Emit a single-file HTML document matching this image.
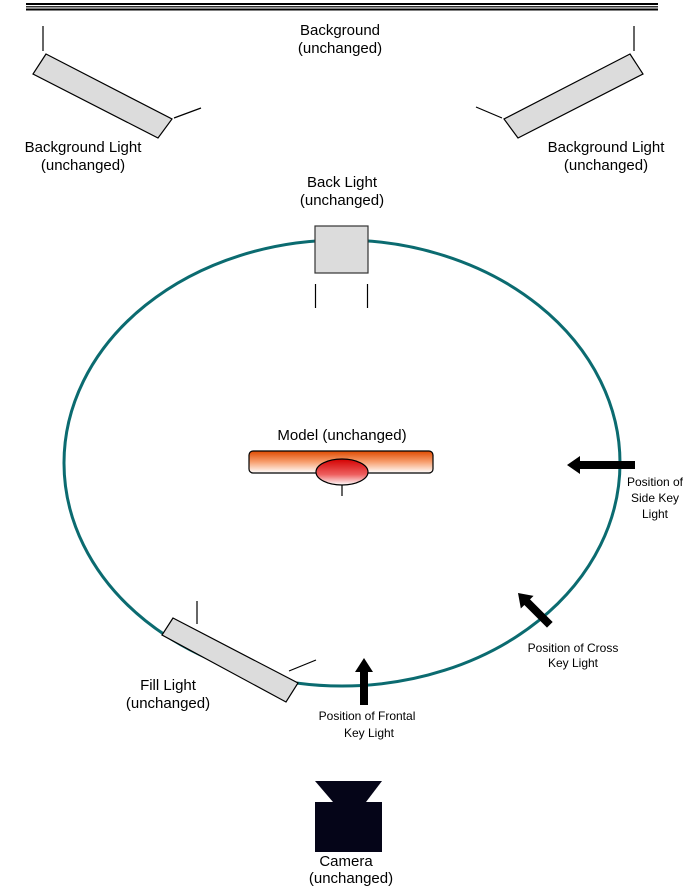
<!DOCTYPE html>
<html><head><meta charset="utf-8"><style>
html,body{margin:0;padding:0;background:#fff;}
svg{display:block;}
text{font-family:"Liberation Sans",sans-serif;fill:#000;}
</style></head><body>
<svg width="685" height="888" viewBox="0 0 685 888" xmlns="http://www.w3.org/2000/svg">
<defs>
<linearGradient id="g" x1="0" y1="0" x2="0" y2="1">
<stop offset="0" stop-color="#e04a00"/><stop offset="0.5" stop-color="#f7a070"/><stop offset="1" stop-color="#ffffff"/>
</linearGradient>
<linearGradient id="g2" x1="0" y1="0" x2="0" y2="1">
<stop offset="0" stop-color="#d40000"/><stop offset="0.6" stop-color="#ee6060"/><stop offset="1" stop-color="#ffffff"/>
</linearGradient>
</defs>
<rect x="26" y="3" width="632" height="2" fill="#000"/>
<rect x="26" y="6" width="632" height="1.5" fill="#333"/>
<rect x="26" y="8.5" width="632" height="2" fill="#000"/>
<text x="340" y="35" font-size="15" text-anchor="middle">Background</text>
<text x="340" y="53" font-size="15" text-anchor="middle">(unchanged)</text>
<line x1="43" y1="26" x2="43" y2="51" stroke="#000" stroke-width="1.2"/>
<polygon points="46,54 33,74 158,138 172,119" fill="#dcdcdc" stroke="#000" stroke-width="1.2"/>
<line x1="174" y1="118" x2="201" y2="108" stroke="#000" stroke-width="1.2"/>
<text x="83" y="152" font-size="15" text-anchor="middle">Background Light</text>
<text x="83" y="170" font-size="15" text-anchor="middle">(unchanged)</text>
<line x1="634" y1="26" x2="634" y2="51" stroke="#000" stroke-width="1.2"/>
<polygon points="630,54 643,74 518,138 504,119" fill="#dcdcdc" stroke="#000" stroke-width="1.2"/>
<line x1="502" y1="118" x2="476" y2="107" stroke="#000" stroke-width="1.2"/>
<text x="606" y="152" font-size="15" text-anchor="middle">Background Light</text>
<text x="606" y="170" font-size="15" text-anchor="middle">(unchanged)</text>
<text x="342" y="187" font-size="15" text-anchor="middle">Back Light</text>
<text x="342" y="205" font-size="15" text-anchor="middle">(unchanged)</text>
<ellipse cx="342" cy="463" rx="278" ry="223" fill="none" stroke="#0b6b70" stroke-width="3"/>
<rect x="315" y="226" width="53" height="47" fill="#dcdcdc" stroke="#333" stroke-width="1.2"/>
<line x1="315.5" y1="284" x2="315.5" y2="308" stroke="#000" stroke-width="1.2"/>
<line x1="367.5" y1="284" x2="367.5" y2="308" stroke="#000" stroke-width="1.2"/>
<text x="342" y="440" font-size="15" text-anchor="middle">Model (unchanged)</text>
<rect x="249" y="451" width="184" height="22" rx="4" fill="url(#g)" stroke="#000" stroke-width="1.2"/>
<ellipse cx="342" cy="472" rx="26" ry="13" fill="url(#g2)" stroke="#000" stroke-width="1.2"/>
<line x1="342" y1="485" x2="342" y2="496" stroke="#000" stroke-width="1.2"/>
<polygon points="567,465 580,456 580,461 635,461 635,469 580,469 580,474" fill="#000"/>
<text x="655" y="486" font-size="12" text-anchor="middle">Position of</text>
<text x="655" y="502" font-size="12" text-anchor="middle">Side Key</text>
<text x="655" y="518" font-size="12" text-anchor="middle">Light</text>
<g transform="translate(518,593) rotate(-45)">
<polygon points="0,0 -9,13 -4,13 -4,45 4,45 4,13 9,13" fill="#000"/>
</g>
<text x="573" y="652" font-size="12" text-anchor="middle">Position of Cross</text>
<text x="573" y="667" font-size="12" text-anchor="middle">Key Light</text>
<polygon points="364,658 355,672 360,672 360,705 368,705 368,672 373,672" fill="#000"/>
<text x="367" y="720" font-size="12" text-anchor="middle">Position of Frontal</text>
<text x="369" y="737" font-size="12" text-anchor="middle">Key Light</text>
<line x1="197" y1="601" x2="197" y2="624" stroke="#000" stroke-width="1.2"/>
<polygon points="173,618 162,635 286,702 298,683" fill="#dcdcdc" stroke="#000" stroke-width="1.2"/>
<line x1="289" y1="671" x2="316" y2="660" stroke="#000" stroke-width="1.2"/>
<text x="168" y="690" font-size="15" text-anchor="middle">Fill Light</text>
<text x="168" y="708" font-size="15" text-anchor="middle">(unchanged)</text>
<polygon points="315,781 382,781 366,802 333,802" fill="#050518"/>
<rect x="315" y="802" width="67" height="50" fill="#050518"/>
<text x="346" y="866" font-size="15" text-anchor="middle">Camera</text>
<text x="351" y="883" font-size="15" text-anchor="middle">(unchanged)</text>
</svg>
</body></html>
